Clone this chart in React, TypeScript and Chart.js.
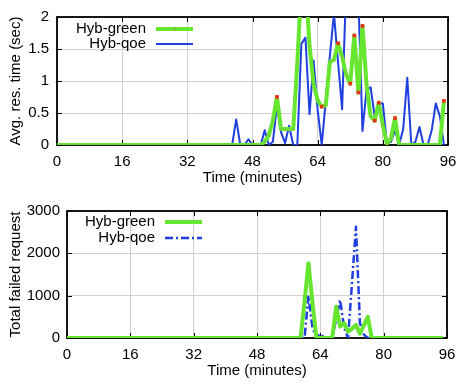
import React, { useEffect, useRef } from 'react';
import { Chart, registerables } from 'chart.js';

Chart.register(...registerables);

// ---- data ----
const minutes = [
  0, 1, 2, 3, 4, 5, 6, 7, 8, 9, 10, 11, 12, 13, 14, 15,
  16, 17, 18, 19, 20, 21, 22, 23, 24, 25, 26, 27, 28, 29, 30, 31,
  32, 33, 34, 35, 36, 37, 38, 39, 40, 41, 42, 43, 44, 45, 46, 47,
  48, 49, 50, 51, 52, 53, 54, 55, 56, 57, 58, 59, 60, 61, 62, 63,
  64, 65, 66, 67, 68, 69, 70, 71, 72, 73, 74, 75, 76, 77, 78, 79,
  80, 81, 82, 83, 84, 85, 86, 87, 88, 89, 90, 91, 92, 93, 94, 95,
];

const xTicks = [0, 16, 32, 48, 64, 80, 96];
const topYTicks = [0, 0.5, 1, 1.5, 2];
const bottomYTicks = [0, 1000, 2000, 3000];

const seriesNames = ['Hyb-green', 'Hyb-qoe'];

// Avg. response time (sec)
const resGreen = [
  0, 0, 0, 0, 0, 0, 0, 0, 0, 0, 0, 0, 0, 0, 0, 0,
  0, 0, 0, 0, 0, 0, 0, 0, 0, 0, 0, 0, 0, 0, 0, 0,
  0, 0, 0, 0, 0, 0, 0, 0, 0, 0, 0, 0, 0, 0, 0, 0,
  0, 0, 0, 0.05, 0.15, 0.38, 0.75, 0.25, 0.25, 0.25, 0.25, 1.28, 2.5, 2.6, 1.55, 0.95,
  0.7, 0.6, 0.62, 1.3, 1.33, 1.59, 1.38, 1.1, 0.96, 1.71, 0.82, 1.86, 0.95, 0.45, 0.38, 0.66,
  0.31, 0.02, 0.1, 0.42, 0, 0, 0, 0, 0, 0, 0, 0, 0, 0, 0, 0.69,
];
const resQoe = [
  0, 0, 0, 0, 0, 0, 0, 0, 0, 0, 0, 0, 0, 0, 0, 0,
  0, 0, 0, 0, 0, 0, 0, 0, 0, 0, 0, 0, 0, 0, 0, 0,
  0, 0, 0, 0, 0, 0, 0, 0, 0, 0, 0, 0, 0.4, 0, 0, 0.09,
  0, 0, 0, 0.23, 0, 0.05, 0.61, 0.2, 0.03, 0.3, 0, 0, 1.58, 1.68, 0.48, 1.32,
  0.55, 0, 0.7, 1.4, 2.05, 1.3, 0.56, 2.5, 2.7, 2.6, 2.3, 0.22, 0.86, 0.9, 0.45, 0.65,
  0.65, 0.02, 0.05, 0.23, 0, 0.25, 1.05, 0, 0.05, 0.28, 0, 0, 0.23, 0.65, 0.45, 0,
];

// Total failed requests
const failGreen = [
  0, 0, 0, 0, 0, 0, 0, 0, 0, 0, 0, 0, 0, 0, 0, 0,
  0, 0, 0, 0, 0, 0, 0, 0, 0, 0, 0, 0, 0, 0, 0, 0,
  0, 0, 0, 0, 0, 0, 0, 0, 0, 0, 0, 0, 0, 0, 0, 0,
  0, 0, 0, 0, 0, 0, 0, 0, 0, 0, 0, 0, 850, 1765, 850, 0,
  0, 0, 0, 0, 740, 270, 350, 150, 220, 310, 100, 300, 500, 0, 0, 0,
  0, 0, 0, 0, 0, 0, 0, 0, 0, 0, 0, 0, 0, 0, 0, 0,
];
const failQoe = [
  0, 0, 0, 0, 0, 0, 0, 0, 0, 0, 0, 0, 0, 0, 0, 0,
  0, 0, 0, 0, 0, 0, 0, 0, 0, 0, 0, 0, 0, 0, 0, 0,
  0, 0, 0, 0, 0, 0, 0, 0, 0, 0, 0, 0, 0, 0, 0, 0,
  0, 0, 0, 0, 0, 0, 0, 0, 0, 0, 0, 0, 0, 1000, 250, 0,
  100, 0, 0, 0, 450, 900, 250, 0, 1300, 2630, 350, 80, 0, 0, 0, 0,
  0, 0, 0, 0, 0, 0, 0, 0, 0, 0, 0, 0, 0, 0, 0, 0,
];

// ---- styling ----
const FONT = "'Liberation Sans', Arial, Helvetica, sans-serif";
const FS = 15;
const GREEN = '#66e62e';
const BLUE = '#1f3fe0';
const RED = '#e8331c';
const W = 474;
const H = 193;

const pts = (vals: number[]) => minutes.map((m, i) => ({ x: m, y: vals[i] }));

const isExtremum = (arr: number[], i: number) => {
  if (i <= 0) return false;
  const v = arr[i];
  const p = arr[i - 1];
  const n = i < arr.length - 1 ? arr[i + 1] : -Infinity;
  return v >= 0.2 && ((v > p && v > n) || (v < p && v < n));
};

const framePlugin = {
  id: 'frame',
  beforeDatasetsDraw(chart: any) {
    const { ctx, chartArea: a, scales } = chart;
    ctx.save();
    ctx.strokeStyle = '#000';
    ctx.lineWidth = 1;
    const tl = 5;
    ctx.beginPath();
    scales.x.ticks.forEach((t: any) => {
      const px = Math.round(scales.x.getPixelForValue(t.value)) + 0.5;
      ctx.moveTo(px, a.bottom);
      ctx.lineTo(px, a.bottom - tl);
      ctx.moveTo(px, a.top);
      ctx.lineTo(px, a.top + tl);
    });
    scales.y.ticks.forEach((t: any) => {
      const py = Math.round(scales.y.getPixelForValue(t.value)) + 0.5;
      ctx.moveTo(a.left, py);
      ctx.lineTo(a.left + tl, py);
      ctx.moveTo(a.right, py);
      ctx.lineTo(a.right - tl, py);
    });
    ctx.stroke();
    ctx.lineWidth = 1.8;
    ctx.strokeRect(a.left, a.top, a.right - a.left, a.bottom - a.top);
    ctx.restore();
  },
};

const keyPlugin = {
  id: 'key',
  afterDatasetsDraw(chart: any, _args: any, opts: any) {
    const { ctx } = chart;
    ctx.save();
    ctx.font = `${FS}px ${FONT}`;
    ctx.textAlign = 'right';
    ctx.textBaseline = 'middle';
    chart.data.datasets.forEach((ds: any, i: number) => {
      const y = opts.rows[i];
      ctx.fillStyle = '#000';
      ctx.fillText(ds.label, opts.textRight, y);
      ctx.strokeStyle = ds.borderColor;
      ctx.lineWidth = ds.borderWidth;
      ctx.setLineDash(ds.borderDash || []);
      ctx.beginPath();
      ctx.moveTo(opts.x0, y);
      ctx.lineTo(opts.x1, y);
      ctx.stroke();
      ctx.setLineDash([]);
      if (opts.marker && i === 0) {
        ctx.fillStyle = '#7fbf3f';
        ctx.fillRect((opts.x0 + opts.x1) / 2 - 1.5, y - 1.5, 3, 3);
      }
    });
    ctx.restore();
  },
};

function makeScales(
  yMin: number,
  yMax: number,
  yTicks: number[],
  yTitle: string,
  yWidth: number,
  yPad: number
) {
  const tickFont = { family: FONT, size: FS };
  return {
    x: {
      type: 'linear',
      min: xTicks[0],
      max: xTicks[xTicks.length - 1],
      afterFit: (s: any) => {
        s.height = 48;
      },
      afterBuildTicks: (s: any) => {
        s.ticks = xTicks.map((v) => ({ value: v }));
      },
      ticks: {
        color: '#000',
        font: tickFont,
        padding: 8,
        maxRotation: 0,
        autoSkip: false,
        callback: (v: any) => String(v),
      },
      grid: { color: '#d2d2d2', lineWidth: 1, drawTicks: false },
      border: { display: false },
      title: {
        display: true,
        text: 'Time (minutes)',
        color: '#000',
        font: tickFont,
        padding: { top: 0, bottom: 6 },
      },
    },
    y: {
      min: yMin,
      max: yMax,
      afterFit: (s: any) => {
        s.width = yWidth;
      },
      afterBuildTicks: (s: any) => {
        s.ticks = yTicks.map((v) => ({ value: v }));
      },
      ticks: {
        color: '#000',
        font: tickFont,
        padding: yPad,
        callback: (v: any) => String(v),
      },
      grid: { color: '#d2d2d2', lineWidth: 1, drawTicks: false },
      border: { display: false },
      title: {
        display: true,
        text: yTitle,
        color: '#000',
        font: tickFont,
        padding: { top: 7, bottom: 0 },
      },
    },
  };
}

export default function App() {
  const topRef = useRef<HTMLCanvasElement>(null);
  const botRef = useRef<HTMLCanvasElement>(null);

  useEffect(() => {
    const top = new Chart(topRef.current as HTMLCanvasElement, {
      type: 'line',
      data: {
        datasets: [
          {
            label: seriesNames[0],
            data: pts(resGreen),
            borderColor: GREEN,
            borderWidth: 4,
            borderJoinStyle: 'round',
            pointStyle: 'rect',
            pointRadius: (c: any) => (isExtremum(resGreen, c.dataIndex) ? 2.6 : 1.3),
            pointBackgroundColor: (c: any) => (isExtremum(resGreen, c.dataIndex) ? RED : '#7fbf3f'),
            pointBorderWidth: 0,
            tension: 0,
          },
          {
            label: seriesNames[1],
            data: pts(resQoe),
            borderColor: BLUE,
            borderWidth: 2,
            borderJoinStyle: 'round',
            pointRadius: 0,
            tension: 0,
          },
        ],
      } as any,
      options: {
        animation: false,
        responsive: false,
        events: [],
        layout: { padding: { left: 0, right: W - 448, top: 17, bottom: 0 } },
        plugins: {
          legend: { display: false },
          tooltip: { enabled: false },
          key: { rows: [29, 44], textRight: 146, x0: 156, x1: 193, marker: true },
        } as any,
        scales: makeScales(0, 2, topYTicks, 'Avg. res. time (sec)', 57, 8) as any,
      },
      plugins: [framePlugin, keyPlugin],
    });

    const bot = new Chart(botRef.current as HTMLCanvasElement, {
      type: 'line',
      data: {
        datasets: [
          {
            label: seriesNames[0],
            data: pts(failGreen),
            borderColor: GREEN,
            borderWidth: 4,
            borderJoinStyle: 'round',
            pointRadius: 0,
            tension: 0,
          },
          {
            label: seriesNames[1],
            data: pts(failQoe),
            borderColor: BLUE,
            borderWidth: 2.5,
            borderDash: [8, 3, 2, 3],
            borderJoinStyle: 'round',
            pointRadius: 0,
            tension: 0,
          },
        ],
      } as any,
      options: {
        animation: false,
        responsive: false,
        events: [],
        layout: { padding: { left: 0, right: W - 447, top: 18, bottom: 0 } },
        plugins: {
          legend: { display: false },
          tooltip: { enabled: false },
          key: { rows: [29, 45], textRight: 155, x0: 165, x1: 202, marker: false },
        } as any,
        scales: makeScales(0, 3000, bottomYTicks, 'Total failed request', 67, 7) as any,
      },
      plugins: [framePlugin, keyPlugin],
    });

    return () => {
      top.destroy();
      bot.destroy();
    };
  }, []);

  return (
    <div
      style={{
        position: 'fixed',
        left: 0,
        top: 0,
        width: W,
        height: 2 * H,
        background: '#fff',
      }}
    >
      <canvas ref={topRef} width={W} height={H} style={{ display: 'block', width: W, height: H }} />
      <canvas ref={botRef} width={W} height={H} style={{ display: 'block', width: W, height: H }} />
    </div>
  );
}
